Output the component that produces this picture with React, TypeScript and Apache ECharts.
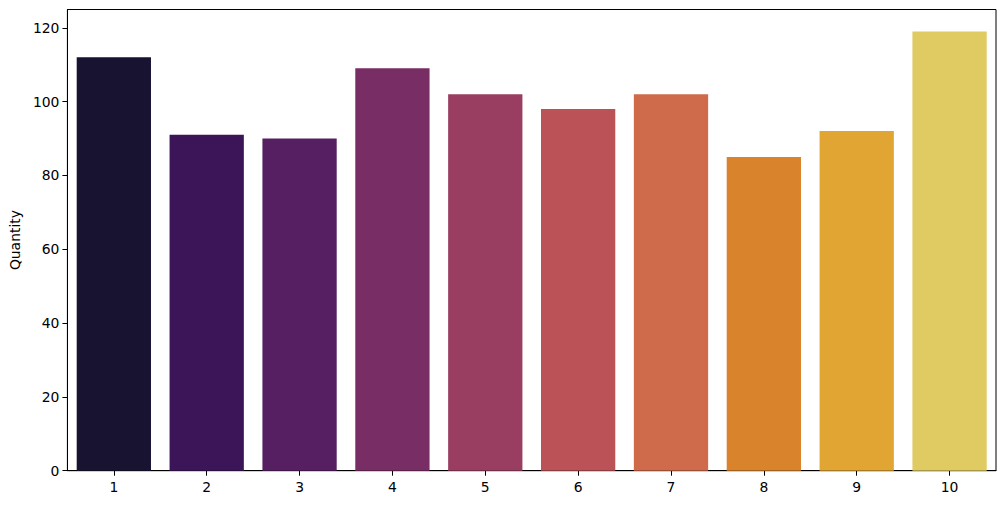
import React, { useEffect, useRef } from "react";
import * as echarts from "echarts";

const categories = ["1", "2", "3", "4", "5", "6", "7", "8", "9", "10"];
const quantities = [112, 91, 90, 109, 102, 98, 102, 85, 92, 119];
const barColors = [
  "#171331",
  "#3b1557",
  "#561f62",
  "#782e65",
  "#9a3e61",
  "#ba5257",
  "#cf6a4a",
  "#d9842c",
  "#e0a532",
  "#e0cb62",
];
const yLabel = "Quantity";

export default function App() {
  const ref = useRef<HTMLDivElement>(null);
  useEffect(() => {
    if (!ref.current) return;
    const chart = echarts.init(ref.current, null, { renderer: "svg" });
    const font = "'DejaVu Sans', sans-serif";
    const yMax = Math.max(...quantities) * 1.05;
    chart.setOption({
      animation: false,
      grid: {
        left: 66.5,
        right: 9,
        top: 9.5,
        bottom: 34.3,
        show: true,
        borderColor: "#000",
        borderWidth: 1,
        backgroundColor: "#fff",
      },
      xAxis: {
        type: "category",
        data: categories,
        axisLine: { show: true, lineStyle: { color: "#000", width: 1 } },
        axisTick: { show: true, alignWithLabel: true, length: 5, lineStyle: { color: "#000" } },
        axisLabel: { color: "#000", fontSize: 13.9, fontFamily: font, margin: 9 },
        splitLine: { show: false },
      },
      yAxis: {
        type: "value",
        min: 0,
        max: yMax,
        interval: 20,
        name: yLabel,
        nameLocation: "middle",
        nameGap: 43,
        nameTextStyle: { color: "#000", fontSize: 13.9, fontFamily: font },
        axisLine: { show: true, lineStyle: { color: "#000", width: 1 } },
        axisTick: { show: true, length: 5, lineStyle: { color: "#000" } },
        axisLabel: {
          color: "#000",
          fontSize: 13.9,
          fontFamily: font,
          margin: 8,
          showMaxLabel: false,
          formatter: (v: number) => (Math.abs(v % 20) < 1e-6 ? String(v) : ""),
        },
        splitLine: { show: false },
      },
      series: [
        {
          type: "bar",
          barWidth: "80%",
          data: quantities.map((v, i) => ({ value: v, itemStyle: { color: barColors[i] } })),
        },
      ],
    });
    return () => chart.dispose();
  }, []);
  return (
    <div
      ref={ref}
      style={{ position: "fixed", left: 0, top: 0, width: 1005, height: 505, background: "#fff" }}
    />
  );
}
